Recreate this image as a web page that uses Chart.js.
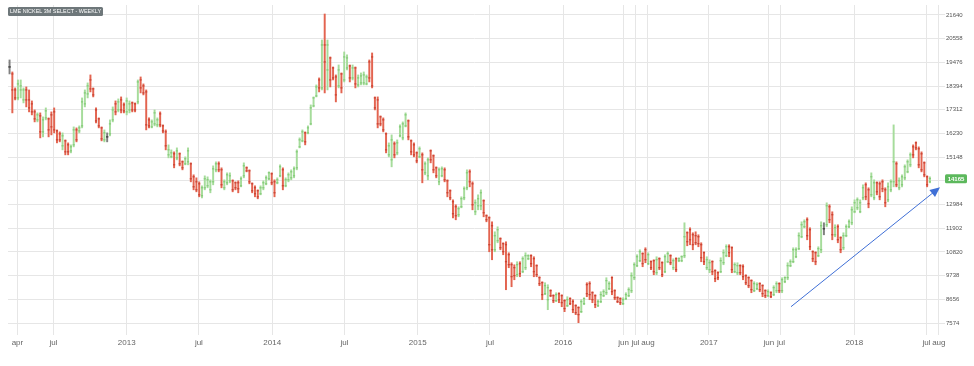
<!DOCTYPE html>
<html>
<head>
<meta charset="utf-8">
<script src="https://cdn.jsdelivr.net/npm/chart.js@4.4.1/dist/chart.umd.min.js"></script>
<style>
  html, body { margin: 0; padding: 0; background: #fff; }
  #wrap { width: 974px; height: 366px; position: relative; }
</style>
</head>
<body>
<div id="wrap"><canvas id="nickelChart" width="974" height="366"></canvas></div>
<script>
const chartTitle = 'LME NICKEL 3M SELECT - WEEKLY';

// first weekly bar, as decimal year
const firstWeek = 2012.195;

const opens = [
  19267, 18948, 18218, 17853, 18218, 17762, 18218, 17762, 17580, 17215,
  16850, 17032, 16302, 16941, 16895, 17078, 17215, 16348, 16211, 15664,
  15892, 15709, 15435, 15709, 16393, 16348, 16576, 17580, 18036, 18674,
  18264, 17306, 16895, 16485, 15937, 16074, 16211, 16850, 17580, 17306,
  17762, 17534, 17215, 17306, 17625, 17580, 17671, 18674, 18401, 18127,
  16850, 16530, 16667, 16622, 17123, 16576, 16302, 15253, 15162, 15299,
  15116, 15299, 14934, 14842, 14934, 14842, 14249, 14021, 13930, 13383,
  13748, 13839, 13656, 14021, 14569, 14842, 14569, 13748, 13976, 14067,
  14067, 13976, 13976, 13839, 14295, 14660, 14523, 13930, 13748, 13611,
  13474, 13748, 13930, 14158, 14386, 14021, 13976, 14295, 14569, 13839,
  14113, 14204, 14295, 14660, 15618, 15892, 16257, 16257, 16667, 17488,
  17944, 18674, 18310, 20271, 19131, 19678, 19222, 18811, 18401, 18948,
  18674, 19222, 19313, 18766, 19222, 18447, 18538, 18538, 18492, 19496,
  19724, 17853, 17762, 16987, 16850, 16211, 15253, 15025, 15755, 15344,
  16120, 16028, 16576, 16804, 15892, 15709, 15344, 15162, 15253, 14432,
  14295, 15435, 15207, 14660, 14021, 14295, 14569, 14067, 13611, 13109,
  12881, 12516, 12881, 13291, 13748, 14477, 13930, 12653, 12926, 12926,
  13155, 12470, 12379, 12014, 10919, 11330, 11421, 11193, 11147, 10691,
  10235, 10098, 9779, 10280, 9915, 10098, 10508, 10645, 10508, 10189,
  9642, 9413, 8912, 8638, 9048, 8820, 8592, 8912, 8820, 8592,
  8364, 8683, 8547, 8364, 8273, 8091, 8455, 9322, 9368, 8957,
  8820, 8364, 8547, 8820, 8957, 9140, 9642, 9048, 8729, 8683,
  8455, 8683, 8820, 9048, 9642, 10189, 10417, 10737, 10919, 10280,
  10372, 10417, 9870, 10508, 10326, 9915, 10372, 10645, 10098, 10508,
  10417, 10417, 10645, 11695, 11831, 11603, 11558, 11512, 11147, 10782,
  10098, 10007, 10372, 9961, 9870, 9915, 10326, 10645, 11056, 11010,
  9915, 9870, 10189, 10144, 9733, 9642, 9505, 9048, 9140, 9368,
  9277, 9048, 8820, 8957, 8866, 9048, 9368, 9048, 9459, 9642,
  10189, 10372, 10600, 10965, 11512, 11968, 12288, 11831, 10828, 10782,
  10645, 10919, 11877, 12060, 12881, 12516, 11603, 11968, 11466, 11010,
  11558, 11968, 12151, 12653, 12835, 12653, 13291, 13885, 13656, 13428,
  13291, 13976, 13930, 14021, 13656, 13200, 13656, 14021, 14842, 13748,
  13885, 14204, 14477, 14797, 15618, 15800, 15527, 15299, 14888, 14249,
  14021
];

const highs = [
  19587, 19039, 18310, 18674, 18674, 18310, 18355, 18218, 17716, 17306,
  17169, 17169, 16987, 17397, 16941, 17215, 17397, 16393, 16302, 16257,
  15937, 15800, 15709, 16530, 16485, 16576, 17853, 18218, 18538, 18903,
  18310, 17397, 16941, 16530, 16393, 16257, 16850, 17443, 17716, 17808,
  17899, 17625, 17853, 17716, 17671, 17625, 18674, 18811, 18492, 18218,
  16941, 16850, 17306, 16941, 17215, 16622, 16393, 15709, 15481, 15390,
  15572, 15344, 14979, 15162, 15572, 14888, 14341, 14204, 14021, 13839,
  14295, 14249, 14113, 14751, 14934, 14934, 14660, 14113, 14432, 14432,
  14113, 14021, 14067, 14249, 14888, 14706, 14569, 13976, 13839, 13656,
  13839, 14067, 14295, 14477, 14432, 14113, 14204, 14797, 14660, 14204,
  14432, 14569, 14706, 15481, 16028, 16393, 16302, 16576, 17534, 17899,
  18447, 18766, 20499, 21685, 20499, 19724, 19267, 18903, 19359, 18994,
  19952, 19815, 19359, 19359, 19267, 18903, 18994, 19039, 18903, 19587,
  19906, 17899, 17899, 17032, 16941, 16257, 15800, 16165, 15846, 15937,
  16622, 16758, 17169, 16850, 15937, 15800, 15390, 15618, 15344, 14934,
  15116, 15481, 15253, 14706, 14660, 14706, 14660, 14113, 13656, 13200,
  12972, 12881, 13337, 13793, 14569, 14569, 14021, 13200, 13428, 13656,
  13200, 12516, 12425, 12196, 11740, 11968, 11466, 11238, 11284, 10782,
  10326, 10235, 10372, 10372, 10600, 10782, 10691, 10691, 10600, 10235,
  9687, 9459, 9413, 9322, 9094, 8866, 8957, 8957, 8866, 8638,
  8775, 8729, 8638, 8410, 8318, 8638, 8729, 9413, 9459, 9003,
  8866, 8638, 9003, 9094, 9642, 9459, 9687, 9094, 8775, 8729,
  8729, 8957, 9185, 9870, 10326, 10691, 10919, 10782, 11010, 10782,
  10417, 10463, 10600, 10554, 10372, 10691, 10828, 10691, 10508, 10554,
  10554, 10645, 12151, 11740, 11923, 11695, 11740, 11603, 11238, 10828,
  10600, 10463, 10417, 10007, 9915, 10554, 10919, 11147, 11147, 11056,
  10326, 10326, 10235, 10235, 9779, 9687, 9550, 9459, 9413, 9413,
  9322, 9094, 9094, 9003, 9277, 9459, 9413, 9642, 9687, 10326,
  10463, 11010, 11010, 11695, 12196, 12288, 12379, 11923, 10873, 10828,
  11056, 12196, 12151, 13063, 12972, 12653, 12060, 12060, 11512, 11695,
  12060, 12288, 12881, 13200, 13291, 13200, 13885, 13976, 13748, 14432,
  14113, 14021, 14021, 14113, 13748, 13976, 14113, 16622, 14934, 14204,
  14341, 14797, 15025, 15344, 15709, 15846, 15618, 15390, 14934, 14295,
  14249
];

const lows = [
  18948, 17169, 17762, 17762, 17853, 17625, 17443, 17215, 17078, 16758,
  16758, 16028, 16074, 16850, 16074, 16165, 16257, 15800, 15846, 15481,
  15253, 15253, 15344, 15618, 15846, 16257, 16485, 17443, 17853, 18127,
  17899, 16713, 16485, 15892, 15846, 15846, 16120, 16758, 17078, 17215,
  17169, 17169, 17078, 17169, 17215, 17215, 17580, 18081, 17990, 16393,
  16485, 16485, 16576, 16530, 16530, 16257, 15481, 15116, 15116, 14660,
  15025, 14751, 14569, 14797, 14797, 14021, 13656, 13565, 13337, 13291,
  13656, 13748, 13520, 13885, 14477, 14477, 13748, 13656, 13885, 13976,
  13565, 13656, 13520, 13793, 14204, 14477, 13930, 13520, 13337, 13246,
  13428, 13656, 13885, 14113, 13885, 13337, 13930, 14249, 13656, 13793,
  14021, 14113, 14204, 14569, 15572, 15846, 15709, 16211, 16622, 17443,
  17899, 18127, 18218, 18081, 18218, 18355, 18674, 17671, 18310, 18081,
  18583, 19131, 18583, 18674, 18310, 18355, 18447, 18447, 18447, 18583,
  18310, 17306, 16485, 16576, 16302, 15344, 15162, 14706, 15116, 15253,
  16074, 15937, 16530, 15937, 15253, 15162, 14888, 15116, 13976, 14341,
  14113, 14888, 14432, 14204, 13885, 14249, 14021, 13337, 13200, 12379,
  12288, 12425, 12835, 13200, 13656, 13793, 12744, 12516, 12744, 12744,
  12425, 12196, 10828, 10463, 10828, 11238, 10919, 10691, 9094, 10098,
  9231, 9550, 9687, 9687, 9870, 10007, 10463, 10144, 9687, 9687,
  9277, 8638, 8866, 8182, 8775, 8501, 8547, 8501, 8318, 8091,
  8318, 8410, 8045, 7954, 7589, 8045, 8410, 8775, 8638, 8501,
  8273, 8318, 8501, 8775, 8866, 9094, 8866, 8638, 8501, 8410,
  8410, 8638, 8775, 8957, 9550, 10144, 10372, 10144, 10326, 10235,
  10007, 9779, 9779, 10007, 9687, 9870, 10326, 10235, 10007, 9915,
  10372, 10372, 10554, 11101, 11147, 10919, 11147, 11056, 10372, 10235,
  10007, 9870, 9779, 9459, 9550, 9870, 10235, 10600, 10600, 9870,
  9870, 9779, 9779, 9550, 9322, 9185, 8957, 9003, 9094, 9003,
  8775, 8729, 8775, 8729, 8820, 8957, 8957, 8957, 9413, 9550,
  10144, 10326, 10554, 10919, 11466, 11923, 11375, 10919, 10372, 10235,
  10600, 10782, 11603, 11968, 12151, 11375, 11512, 11238, 10782, 10919,
  11512, 11923, 12060, 12607, 12744, 12607, 13200, 13200, 12835, 13337,
  13200, 13428, 13200, 13565, 12881, 13109, 13565, 13793, 13793, 13656,
  13793, 14113, 14432, 14706, 15116, 15481, 14660, 14477, 14249, 13793,
  13976
];

const closes = [
  19267, 18218, 17853, 18492, 18401, 18218, 17762, 17397, 17215, 16895,
  17078, 16302, 16850, 17260, 16393, 16530, 16393, 15937, 15937, 16120,
  15390, 15390, 15618, 16393, 15937, 16485, 17671, 18081, 18401, 18264,
  17990, 16804, 16576, 15983, 16257, 16074, 16667, 17306, 17215, 17671,
  17306, 17260, 17716, 17580, 17306, 17306, 18583, 18310, 18081, 16622,
  16576, 16758, 17169, 16850, 16622, 16348, 15664, 15481, 15344, 14797,
  15435, 14842, 14660, 15071, 15435, 14158, 13793, 13656, 13428, 13748,
  14158, 14113, 14021, 14614, 14842, 14569, 13885, 14021, 14341, 14295,
  13656, 13748, 13702, 14158, 14751, 14523, 14021, 13611, 13474, 13337,
  13748, 13976, 14204, 14432, 13976, 13520, 14113, 14706, 13839, 14113,
  14341, 14477, 14614, 15390, 15937, 16302, 15846, 16485, 17397, 17853,
  18355, 18310, 20271, 19496, 20271, 18674, 18766, 17990, 19131, 18310,
  19724, 19678, 18766, 19222, 18492, 18766, 18857, 18903, 18811, 18766,
  18401, 17397, 16667, 16667, 16393, 15481, 15664, 15937, 15253, 15800,
  16530, 16667, 17078, 16074, 15390, 15253, 14979, 15527, 14569, 14842,
  15025, 15025, 14569, 14295, 14569, 14614, 14113, 13520, 13291, 12561,
  12470, 12790, 13246, 13702, 14432, 14021, 12972, 13063, 13246, 13520,
  12607, 12288, 11147, 10919, 11558, 11831, 11010, 10828, 10372, 10235,
  9687, 9733, 10235, 9824, 10508, 10645, 10645, 10280, 9915, 9779,
  9368, 8866, 9277, 9185, 8820, 8592, 8866, 8638, 8501, 8227,
  8638, 8455, 8182, 8045, 7954, 8547, 8683, 8912, 8866, 8638,
  8410, 8547, 8866, 9003, 9505, 9368, 9003, 8729, 8547, 8501,
  8638, 8866, 9094, 9733, 10235, 10600, 10828, 10280, 10463, 10691,
  10098, 9915, 10463, 10098, 9779, 10600, 10737, 10326, 10417, 10007,
  10508, 10600, 11512, 11284, 11375, 11147, 11238, 11193, 10554, 10372,
  10463, 10326, 9915, 9596, 9642, 10417, 10782, 11056, 10782, 10007,
  10235, 10189, 9870, 9687, 9413, 9277, 9094, 9368, 9322, 9094,
  8912, 8820, 9003, 8775, 9185, 9368, 9048, 9550, 9642, 10189,
  10372, 10919, 10919, 11558, 12060, 12196, 11558, 11056, 10508, 10372,
  10965, 12014, 11877, 12926, 12288, 11603, 11923, 11375, 10919, 11558,
  11968, 12196, 12744, 13063, 13200, 13063, 13748, 13337, 13018, 14249,
  13976, 13565, 13337, 13702, 13063, 13793, 14021, 14934, 13885, 14067,
  14249, 14706, 14934, 15253, 15253, 15572, 14797, 14569, 14341, 13885,
  14165
];

// right-hand price axis
const yTicks = [7574, 8656, 9738, 10820, 11902, 12984, 14066, 15148, 16230, 17312, 18394, 19476, 20558, 21640];

// time axis marks (decimal years) and their labels
const xTickValues = [2012.249, 2012.497, 2013, 2013.496, 2014, 2014.496, 2015, 2015.496,
  2016, 2016.415, 2016.497, 2016.582, 2017, 2017.413, 2017.496, 2018, 2018.496, 2018.581];
const xTickLabels = ['apr', 'jul', '2013', 'jul', '2014', 'jul', '2015', 'jul',
  '2016', 'jun', 'jul', 'aug', '2017', 'jun', 'jul', '2018', 'jul', 'aug'];

// trend arrow drawn on the chart, in data units
const arrowFrom = { x: 2017.565, y: 8319 };
const arrowTo = { x: 2018.589, y: 13779 };

const UP = '#a6dc9b';
const DOWN = '#e36450';
const FLAT = '#808080';
const FONT = '"Liberation Sans", Arial, Helvetica, sans-serif';

const weekStep = 7 / 365.25;
const weeks = closes.map((_, i) => firstWeek + i * weekStep);

function barColor(i) {
  if (closes[i] > opens[i]) return UP;
  if (closes[i] < opens[i]) return DOWN;
  return FLAT;
}

function tickColor(i) {
  if (closes[i] > opens[i]) return '#7cc770';
  if (closes[i] < opens[i]) return '#c4392a';
  return '#444';
}

const overlayPlugin = {
  id: 'overlay',
  afterDraw(chart) {
    const { ctx, scales } = chart;
    ctx.save();

    // trend arrow
    const x1 = scales.x.getPixelForValue(arrowFrom.x);
    const y1 = scales.y.getPixelForValue(arrowFrom.y);
    const x2 = scales.x.getPixelForValue(arrowTo.x);
    const y2 = scales.y.getPixelForValue(arrowTo.y);
    const angle = Math.atan2(y2 - y1, x2 - x1);
    const headLen = 10;
    const headHalf = 4.5;
    ctx.strokeStyle = '#3f6fd6';
    ctx.fillStyle = '#3f6fd6';
    ctx.lineWidth = 1;
    ctx.beginPath();
    ctx.moveTo(x1, y1);
    ctx.lineTo(x2 - Math.cos(angle) * headLen * 0.8, y2 - Math.sin(angle) * headLen * 0.8);
    ctx.stroke();
    const bx = x2 - Math.cos(angle) * headLen;
    const by = y2 - Math.sin(angle) * headLen;
    ctx.beginPath();
    ctx.moveTo(x2, y2);
    ctx.lineTo(bx + Math.sin(angle) * headHalf, by - Math.cos(angle) * headHalf);
    ctx.lineTo(bx - Math.sin(angle) * headHalf, by + Math.cos(angle) * headHalf);
    ctx.closePath();
    ctx.fill();

    // title badge, text squeezed to fit the box
    ctx.fillStyle = '#6e777a';
    ctx.beginPath();
    ctx.roundRect(8, 7, 95, 9, 1.5);
    ctx.fill();
    ctx.fillStyle = '#ffffff';
    ctx.font = `6px ${FONT}`;
    ctx.textBaseline = 'middle';
    ctx.textAlign = 'center';
    const tw = ctx.measureText(chartTitle).width;
    const squeeze = Math.min(1, 91 / tw);
    ctx.save();
    ctx.translate(55.5, 11.8);
    ctx.scale(squeeze, 1);
    ctx.fillText(chartTitle, 0, 0);
    ctx.restore();

    // last price badge
    const last = closes[closes.length - 1];
    const ly = scales.y.getPixelForValue(last);
    ctx.fillStyle = '#5cb85c';
    ctx.beginPath();
    ctx.roundRect(945, ly - 4.5, 22, 9, 1.5);
    ctx.fill();
    ctx.fillStyle = '#ffffff';
    ctx.font = `bold 6px ${FONT}`;
    ctx.fillText(String(last), 956, ly + 0.5);

    ctx.restore();
  }
};

const ctx = document.getElementById('nickelChart');

new Chart(ctx, {
  type: 'bar',
  data: {
    datasets: [
      {
        type: 'bar',
        data: weeks.map((t, i) => ({ x: t, y: [lows[i], highs[i]] })),
        backgroundColor: weeks.map((_, i) => barColor(i)),
        borderWidth: 0,
        barThickness: 1.3,
        grouped: false,
        order: 2
      },
      {
        type: 'scatter',
        data: weeks.map((t, i) => ({ x: t, y: opens[i] })),
        pointStyle: 'line',
        pointRadius: 1.1,
        pointHoverRadius: 1.1,
        pointBorderWidth: 1,
        pointBorderColor: weeks.map((_, i) => tickColor(i)),
        showLine: false,
        order: 1
      },
      {
        type: 'scatter',
        data: weeks.map((t, i) => ({ x: t, y: closes[i] })),
        pointStyle: 'line',
        pointRadius: 1.1,
        pointHoverRadius: 1.1,
        pointBorderWidth: 1,
        pointBorderColor: weeks.map((_, i) => tickColor(i)),
        showLine: false,
        order: 1
      }
    ]
  },
  options: {
    responsive: false,
    animation: false,
    layout: { padding: { left: 8, top: 5, right: 0, bottom: 0 } },
    plugins: {
      legend: { display: false },
      tooltip: { enabled: false }
    },
    scales: {
      x: {
        type: 'linear',
        min: 2012.1843,
        max: 2018.5958,
        offset: false,
        grid: { color: '#e6e6e6', drawTicks: false, offset: false },
        border: { display: false },
        afterBuildTicks: scale => {
          scale.ticks = xTickValues.map(v => ({ value: v }));
        },
        afterFit: scale => {
          scale.height = 31;
        },
        ticks: {
          autoSkip: false,
          maxRotation: 0,
          padding: 3,
          color: '#666',
          font: { size: 8, family: FONT },
          callback: (value, index) => xTickLabels[index]
        }
      },
      y: {
        position: 'right',
        min: 7027,
        max: 22096,
        grid: { color: '#e6e6e6', tickLength: 4 },
        border: { display: false },
        afterBuildTicks: scale => {
          scale.ticks = yTicks.map(v => ({ value: v }));
        },
        afterFit: scale => {
          scale.width = 33;
        },
        ticks: {
          padding: 1,
          color: '#555',
          font: { size: 6, family: FONT },
          callback: value => String(value)
        }
      }
    }
  },
  plugins: [overlayPlugin]
});
</script>
</body>
</html>
